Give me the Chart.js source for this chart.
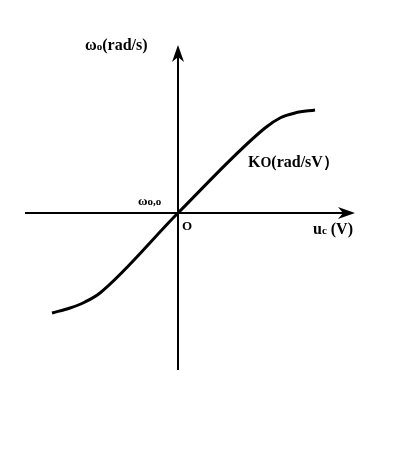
<!DOCTYPE html>
<html><head><meta charset="utf-8">
<script src="https://cdn.jsdelivr.net/npm/chart.js@4"></script>
<style>html,body{margin:0;padding:0;background:#fff}#w{width:400px;height:456px}</style>
</head><body><div id="w"><canvas id="c"></canvas></div>
<script>
// Characteristic curve: control voltage u_c vs output frequency ω0 (relative units)
const uc = [-126, -108, -93, -78, 0, 87, 102, 117, 137];
const omega = [-100, -95, -89, -80, 0, 85, 95, 100, 103];
const xRange = [-178, 222];
const yRange = [-243, 213];
const axisX = [-153, 177];
const axisY = [-157, 168];

const axesPlugin = {
  id: 'axes',
  afterDatasetsDraw(chart) {
    const ctx = chart.ctx, x = chart.scales.x, y = chart.scales.y;
    const ox = x.getPixelForValue(0), oy = y.getPixelForValue(0);
    ctx.save();
    ctx.strokeStyle = '#000'; ctx.fillStyle = '#000'; ctx.lineWidth = 2;
    const x1 = x.getPixelForValue(axisX[0]), x2 = x.getPixelForValue(axisX[1]);
    const y1 = y.getPixelForValue(axisY[0]), y2 = y.getPixelForValue(axisY[1]);
    ctx.beginPath(); ctx.moveTo(x1, oy); ctx.lineTo(x2 - 8, oy); ctx.stroke();
    ctx.beginPath(); ctx.moveTo(ox, y1); ctx.lineTo(ox, y2 + 8); ctx.stroke();
    ctx.beginPath(); ctx.moveTo(x2, oy); ctx.lineTo(x2 - 17, oy - 6); ctx.lineTo(x2 - 12, oy); ctx.lineTo(x2 - 17, oy + 6); ctx.closePath(); ctx.fill();
    ctx.beginPath(); ctx.moveTo(ox, y2); ctx.lineTo(ox - 6, y2 + 17); ctx.lineTo(ox, y2 + 12); ctx.lineTo(ox + 6, y2 + 17); ctx.closePath(); ctx.fill();
    const big = 'bold 16px "Liberation Serif"', small = 'bold 11px "Liberation Serif"';
    function seq(parts, px, py) {
      let cx = px;
      ctx.textBaseline = 'alphabetic'; ctx.textAlign = 'left';
      for (const [t, f] of parts) { ctx.font = f; ctx.fillText(t, cx, py); cx += ctx.measureText(t).width; }
    }
    seq([['ω', big], ['o', small], ['(rad/s)', big]], ox - 93, oy - 163);
    seq([['K', big], ['O', 'bold 14px "Liberation Serif"'], ['(rad/sV）', big]], ox + 70, oy - 46);
    seq([['ω', 'bold 13px "Liberation Serif"'], ['o,o', small]], ox - 40, oy - 8);
    seq([['O', 'bold 13px "Liberation Serif"']], ox + 4, oy + 17);
    seq([['u', big], ['c', small], [' (V)', big]], ox + 135, oy + 21);
    ctx.restore();
  }
};

new Chart(document.getElementById('c'), {
  type: 'line',
  data: { datasets: [{
    data: uc.map((v, i) => ({x: v, y: omega[i]})),
    borderColor: '#000', borderWidth: 3, pointRadius: 0,
    cubicInterpolationMode: 'monotone'
  }]},
  options: {
    responsive: true, maintainAspectRatio: false, animation: false,
    layout: {padding: 0},
    plugins: {legend: {display: false}, tooltip: {enabled: false}},
    scales: {
      x: {type: 'linear', min: xRange[0], max: xRange[1], display: false},
      y: {type: 'linear', min: yRange[0], max: yRange[1], display: false}
    }
  },
  plugins: [axesPlugin]
});
</script></body></html>
